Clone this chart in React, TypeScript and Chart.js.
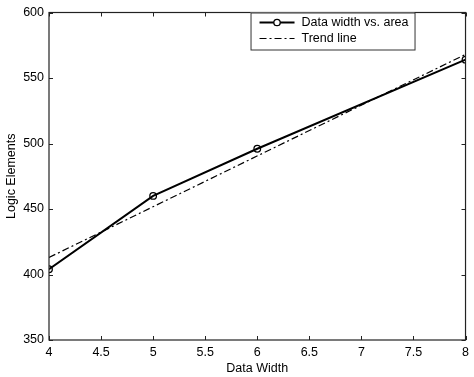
import React, { useEffect, useRef } from "react";
import { Chart, registerables } from "chart.js";

Chart.register(...registerables);

const dataWidths = [4, 5, 6, 8];
const logicElements = [404, 460, 496, 564];
const trendWidths = [4, 8];
const trendElements = [413, 568];
const seriesLabels = ["Data width vs. area", "Trend line"];
const xAxisTitle = "Data Width";
const yAxisTitle = "Logic Elements";

const FONT = "'Liberation Sans', Arial, Helvetica, sans-serif";
const FONT_SIZE = 12.5;
const TREND_DASH = [7, 3, 2, 3];

const framePlugin = {
  id: "frameAndLegend",
  afterDraw(chart: any) {
    const { ctx, chartArea: a, scales } = chart;
    const xs = scales.x;
    const ys = scales.y;
    ctx.save();
    ctx.strokeStyle = "#222";
    ctx.lineWidth = 1.2;
    ctx.strokeRect(a.left, a.top, a.right - a.left, a.bottom - a.top);
    const tl = 4;
    ctx.lineWidth = 1;
    ctx.beginPath();
    xs.ticks.forEach((t: any) => {
      const px = Math.round(xs.getPixelForValue(t.value)) + 0.5;
      ctx.moveTo(px, a.bottom);
      ctx.lineTo(px, a.bottom - tl);
      ctx.moveTo(px, a.top);
      ctx.lineTo(px, a.top + tl);
    });
    ys.ticks.forEach((t: any) => {
      const py = Math.round(ys.getPixelForValue(t.value)) + 0.5;
      ctx.moveTo(a.left, py);
      ctx.lineTo(a.left + tl, py);
      ctx.moveTo(a.right, py);
      ctx.lineTo(a.right - tl, py);
    });
    ctx.stroke();

    // legend box
    const bx = a.right - 215;
    const by = a.top;
    const bw = 164;
    const bh = 37;
    ctx.fillStyle = "#fff";
    ctx.fillRect(bx, by, bw, bh);
    ctx.strokeStyle = "#333";
    ctx.lineWidth = 1;
    ctx.strokeRect(bx + 0.5, by + 0.5, bw, bh);
    const r1 = by + 10;
    const r2 = by + 26;
    const lx0 = bx + 9;
    const lx1 = bx + 44;
    ctx.strokeStyle = "#000";
    ctx.lineWidth = 2;
    ctx.beginPath();
    ctx.moveTo(lx0, r1);
    ctx.lineTo(lx1, r1);
    ctx.stroke();
    ctx.lineWidth = 1.3;
    ctx.beginPath();
    ctx.arc((lx0 + lx1) / 2, r1, 3.2, 0, Math.PI * 2);
    ctx.fillStyle = "#fff";
    ctx.fill();
    ctx.stroke();
    ctx.lineWidth = 1.2;
    ctx.setLineDash(TREND_DASH);
    ctx.beginPath();
    ctx.moveTo(lx0, r2);
    ctx.lineTo(lx1, r2);
    ctx.stroke();
    ctx.setLineDash([]);
    ctx.fillStyle = "#000";
    ctx.font = `${FONT_SIZE}px ${FONT}`;
    ctx.textBaseline = "middle";
    ctx.textAlign = "left";
    ctx.fillText(chart.data.datasets[0].label, bx + 51, r1);
    ctx.fillText(chart.data.datasets[1].label, bx + 51, r2);
    ctx.restore();
  },
};

export default function App() {
  const ref = useRef<HTMLCanvasElement | null>(null);
  useEffect(() => {
    if (!ref.current) return;
    const chart = new Chart(ref.current, {
      type: "line",
      data: {
        datasets: [
          {
            label: seriesLabels[0],
            data: dataWidths.map((x, i) => ({ x, y: logicElements[i] })),
            borderColor: "#000",
            borderWidth: 2,
            pointRadius: 3.3,
            pointBorderWidth: 1.3,
            pointBackgroundColor: "rgba(255,255,255,0)",
            pointBorderColor: "#000",
            tension: 0,
          },
          {
            label: seriesLabels[1],
            data: trendWidths.map((x, i) => ({ x, y: trendElements[i] })),
            borderColor: "#000",
            borderWidth: 1.2,
            borderDash: TREND_DASH,
            pointRadius: 0,
            tension: 0,
          },
        ],
      },
      options: {
        animation: false,
        responsive: false,
        layout: { padding: { left: 0, top: 10, right: 6, bottom: 0 } },
        plugins: { legend: { display: false }, tooltip: { enabled: false } },
        scales: {
          x: {
            type: "linear",
            min: 4,
            max: 8,
            ticks: {
              stepSize: 0.5,
              padding: 5,
              color: "#000",
              font: { family: FONT, size: FONT_SIZE },
              maxRotation: 0,
              callback: (v: any) => String(Number(v)),
            },
            grid: { display: false, drawTicks: false },
            border: { display: false },
            title: {
              display: true,
              text: xAxisTitle,
              color: "#000",
              font: { family: FONT, size: FONT_SIZE },
              padding: { top: 0, bottom: 1 },
            },
            afterFit: (s: any) => {
              s.height = 37;
            },
          },
          y: {
            type: "linear",
            min: 350,
            max: 600,
            ticks: {
              stepSize: 50,
              padding: 5,
              color: "#000",
              font: { family: FONT, size: FONT_SIZE },
            },
            grid: { display: false, drawTicks: false },
            border: { display: false },
            title: {
              display: true,
              text: yAxisTitle,
              color: "#000",
              font: { family: FONT, size: FONT_SIZE },
              padding: { top: 4, bottom: 4 },
            },
            afterFit: (s: any) => {
              s.width = 49;
            },
          },
        },
      },
      plugins: [framePlugin],
    } as any);
    return () => chart.destroy();
  }, []);
  return (
    <div style={{ position: "absolute", left: 0, top: 0, width: 474, height: 377, background: "#fff" }}>
      <canvas ref={ref} width={474} height={377} />
    </div>
  );
}
